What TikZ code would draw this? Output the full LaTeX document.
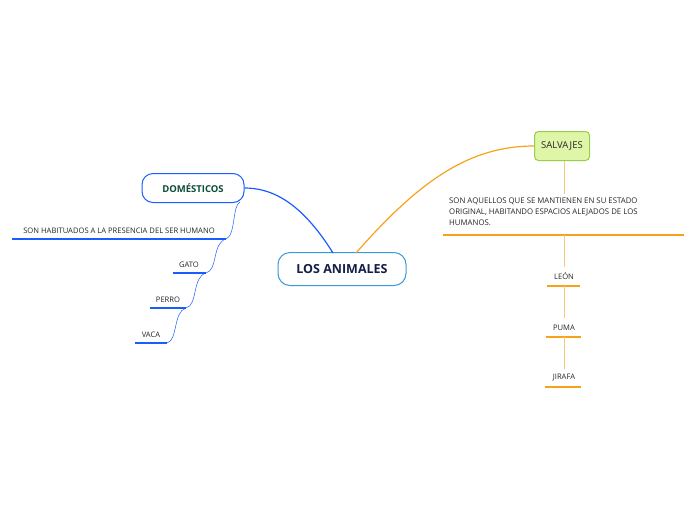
\documentclass[tikz,border=0pt]{standalone}
\usepackage{fontspec}
\setmainfont{Open Sans}
\definecolor{dblue}{HTML}{1A5CFF}
\definecolor{lblue}{HTML}{3A9AD9}
\definecolor{orng}{HTML}{F7A21B}
\definecolor{lorng}{HTML}{F9C77A}
\definecolor{gfill}{HTML}{DFF5A8}
\definecolor{gbord}{HTML}{9ACD4A}
\tikzset{
 small/.style={font=\fontsize{7.6}{9}\selectfont, text=black!85, inner sep=1pt},
 bline/.style={dblue, line width=2pt},
 oline/.style={orng, line width=2pt},
 thinb/.style={dblue, line width=0.5pt},
 thino/.style={lorng, line width=0.8pt}
}
\begin{document}
\begin{tikzpicture}[x=1pt,y=-1pt]
\useasboundingbox (0,0) rectangle (696,520);
% main
\node[draw=lblue, line width=1pt, fill=white, rounded corners=12pt, minimum width=128pt, minimum height=33pt,
 font=\fontsize{12.5}{14}\selectfont\bfseries, text={rgb,255:red,20;green,30;blue,70}] (main) at (342,269) {LOS ANIMALES};
\node[draw=dblue, line width=1pt, fill=white, rounded corners=11pt, minimum width=102pt, minimum height=29pt,
 font=\fontsize{9.5}{11}\selectfont\bfseries, text={rgb,255:red,13;green,77;blue,58}] (dom) at (193,188) {DOMÉSTICOS};
\node[draw=gbord, line width=1pt, fill=gfill, rounded corners=4pt, minimum width=55pt, minimum height=29pt,
 font=\fontsize{9.5}{11}\selectfont, text=black!85] (sal) at (562,146) {SALVAJES};
\coordinate (m1) at (333,253);
\coordinate (m2) at (356,253);
\draw[dblue, line width=1.2pt] (m1) .. controls (300,200) and (270,188) .. (dom.east);
\draw[orng, line width=1.2pt] (m2) .. controls (420,180) and (470,146) .. (sal.west);
% domesticos children
\coordinate (d0) at (240,202);
\coordinate (h1) at (12,239); \coordinate (h2) at (226,239);
\coordinate (g1) at (173,273); \coordinate (g2) at (206,273);
\coordinate (p1) at (150,308); \coordinate (p2) at (186,308);
\coordinate (v1) at (135,343); \coordinate (v2) at (167,343);
\draw[bline] (h1) -- (h2); \draw[bline] (g1) -- (g2); \draw[bline] (p1) -- (p2); \draw[bline] (v1) -- (v2);
\node[small, anchor=south] (th) at (119,235) {SON HABITUADOS A LA PRESENCIA DEL SER HUMANO};
\node[small, anchor=south] (tg) at (189,269) {GATO};
\node[small, anchor=south] (tp) at (168,304) {PERRO};
\node[small, anchor=south] (tv) at (151,339) {VACA};
\draw[thinb] (d0) .. controls (232,206) and (236,235) .. (h2);
\draw[thinb] (h2) .. controls (212,243) and (218,270) .. (g2);
\draw[thinb] (g2) .. controls (192,277) and (198,305) .. (p2);
\draw[thinb] (p2) .. controls (173,312) and (178,340) .. (v2);
% salvajes children
\coordinate (s1) at (443,235); \coordinate (s2) at (684,235); \coordinate (sm) at (564,235);
\coordinate (st) at (564,194);
\coordinate (l1) at (547,286); \coordinate (l2) at (580,286); \coordinate (lm) at (564,286);
\coordinate (u1) at (546,337); \coordinate (u2) at (581,337); \coordinate (um) at (564,337);
\coordinate (j1) at (545,387); \coordinate (j2) at (581,387);
\draw[oline] (s1) -- (s2); \draw[oline] (l1) -- (l2); \draw[oline] (u1) -- (u2); \draw[oline] (j1) -- (j2);
\node[small, anchor=north west, align=left, font=\fontsize{7.8}{10.8}\selectfont] (tsal) at (448,197)
 {SON AQUELLOS QUE SE MANTIENEN EN SU ESTADO\\ORIGINAL, HABITANDO ESPACIOS ALEJADOS DE LOS\\HUMANOS.};
\node[small, anchor=south] (tl) at (564,281) {LEÓN};
\node[small, anchor=south] (tu) at (564,332) {PUMA};
\node[small, anchor=south] (tj) at (564,382) {JIRAFA};
\draw[thino] (sal.south -| st) -- (st);
\draw[thino] (sm) -- (564,267);
\draw[thino] (lm) -- (564,318);
\draw[thino] (um) -- (564,369);
\end{tikzpicture}
\end{document}
